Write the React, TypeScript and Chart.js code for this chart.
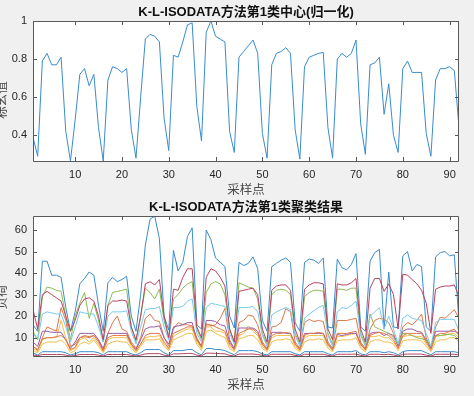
import { useEffect, useRef } from "react";
import { Chart, registerables } from "chart.js";

Chart.register(...registerables);

// Sample index along the x axis (1..92)
const samplePoints: number[] = Array.from({ length: 92 }, (_, i) => i + 1);

const xTickValues = [10, 20, 30, 40, 50, 60, 70, 80, 90];
const centerTickValues = [0.4, 0.6, 0.8, 1];
const loadTickValues = [10, 20, 30, 40, 50, 60];

const centerTitle = "K-L-ISODATA方法第1类中心(归一化)";
const clusterTitle = "K-L-ISODATA方法第1类聚类结果";
const xAxisTitle = "采样点";
const centerAxisTitle = "标幺值";
const loadAxisTitle = "负荷";

// Normalised centre of cluster 1
const centerValues = [
  0.39, 0.29, 0.79, 0.83, 0.77, 0.77, 0.81, 0.42, 0.265, 0.48,
  0.72, 0.75, 0.66, 0.72, 0.44, 0.265, 0.69, 0.76, 0.75, 0.73,
  0.75, 0.43, 0.28, 0.6, 0.905, 0.93, 0.92, 0.89, 0.49, 0.32,
  0.82, 0.81, 0.89, 0.98, 0.99, 0.55, 0.37, 0.94, 1.0, 0.92,
  0.905, 0.89, 0.42, 0.31, 0.81, 0.84, 0.87, 0.9, 0.83, 0.41,
  0.28, 0.77, 0.83, 0.84, 0.86, 0.83, 0.43, 0.275, 0.76, 0.81,
  0.82, 0.83, 0.835, 0.44, 0.28, 0.8, 0.83, 0.81, 0.83, 0.9,
  0.46, 0.3, 0.77, 0.78, 0.81, 0.51, 0.67, 0.4, 0.31, 0.75,
  0.79, 0.73, 0.73, 0.73, 0.41, 0.29, 0.69, 0.75, 0.75, 0.76,
  0.74, 0.44,
];

// Load curves of the members of cluster 1
const loadA = [
  16, 13, 45.5, 45.5, 39, 39, 38, 24, 13, 22,
  35, 37.5, 40.5, 39, 25, 13, 35.5, 38, 36, 37,
  38.5, 20, 13, 30, 53, 65, 66.5, 56, 20, 13.5,
  50.5, 41, 45, 57, 61, 16, 14, 60, 55.5, 47,
  45, 43, 20, 14.5, 45, 43.5, 44.5, 47.5, 42, 18,
  13, 43, 44.5, 46, 47, 45, 17, 13, 45, 46.5,
  46, 44.5, 47, 15, 14.5, 46.5, 42.5, 41.5, 44, 49,
  15, 13, 45.5, 49.5, 51, 14, 40.5, 15, 14.5, 48,
  50, 41, 44, 43, 15, 13, 47.5, 49.5, 50, 48,
  48.5, 17,
];
const loadB = [
  23, 14, 30, 31.5, 30, 28.5, 27, 20, 13, 18,
  25, 28, 28.5, 27, 20, 9, 25, 27, 27, 27.5,
  27, 15, 9, 20, 35, 36, 34.5, 37, 20, 10,
  32.5, 32, 38, 42, 42, 15, 10, 38, 42, 41,
  38, 34, 14, 8, 31.5, 32, 32.5, 33, 30, 14,
  8, 32, 34, 34.5, 34.5, 32, 14, 8, 32.5, 34.5,
  35.5, 35.5, 35, 14, 9, 35, 34.5, 34.5, 35.5, 37.5,
  14, 8, 33, 37.5, 37.5, 31.5, 35, 30, 14, 39.5,
  39, 37, 35, 32, 26, 12, 32.5, 33.5, 34, 34,
  34.5, 29,
];
const loadC = [
  13, 9, 29, 33.5, 33, 32, 31.5, 20, 9, 20,
  26, 31, 19, 26, 18, 8, 25, 31, 31.5, 32,
  32.5, 15, 8, 20, 33, 31, 28, 32.5, 18, 10,
  28, 30, 33, 35, 36, 14, 9, 31, 35, 36,
  35, 30, 14, 8, 35.5, 34.5, 33.5, 33, 28, 12,
  7, 30, 32, 32.5, 32, 30, 12, 7, 29, 31,
  32, 32, 31.5, 12, 7, 32.5, 32.5, 32, 33, 33,
  12, 7, 21, 15, 14, 13, 12, 10, 7, 12,
  12, 11, 10, 9.5, 9, 6, 11, 11, 11.5, 11.5,
  11, 9,
];
const loadD = [
  12, 9, 21, 22, 21.5, 21, 21, 15, 8, 15,
  22, 21.5, 21, 21, 15, 8, 20, 22, 22, 22,
  22.5, 13, 7, 15, 23, 23.5, 23.5, 24.5, 15, 9,
  24, 24, 24.5, 27, 28, 12, 8, 24, 26, 25.5,
  25, 24.5, 12, 7, 24, 24, 24, 24.5, 22, 11,
  6, 20.5, 22, 23, 24, 23, 11, 6, 19, 21,
  22.5, 24, 25, 11, 6, 22, 24, 23.5, 25, 27,
  11, 6, 20, 22, 24, 14, 20, 14, 7, 19,
  20.5, 19, 18.5, 18, 12, 6, 17, 18.5, 18.5, 18.5,
  18.5, 13,
];
const loadE = [
  6, 4, 10, 15, 14, 13, 24, 18, 6, 7,
  10, 11, 10.5, 11, 9, 4, 12, 17, 20, 14,
  13, 8, 5, 10, 19, 21, 18, 17.5, 10, 6,
  14, 17, 16, 16, 15.5, 10, 6, 16.5, 15.5, 16,
  19, 23.5, 9, 5, 17, 18, 20.5, 20, 16, 8,
  5, 15, 15.5, 17, 23.5, 22, 8, 5, 17, 18.5,
  17.5, 18, 17.5, 8, 5, 18, 18, 18, 18.5, 19,
  8, 5, 14, 18, 19, 18.5, 17, 12, 6, 15,
  17, 16, 18, 21, 10, 5, 15, 19.5, 19, 21,
  23, 19,
];
const loadF = [
  8, 6, 13, 13, 12.5, 12.5, 12.5, 9, 5, 8,
  12, 12, 12, 12, 9, 5, 12, 12, 12, 12,
  12, 7, 4.5, 9, 14, 15, 15, 15.5, 10, 7,
  15, 15.5, 16, 17, 17, 9, 6, 18, 18, 17.5,
  16, 15.5, 8, 5, 14.5, 14.5, 14.5, 14.5, 13, 7,
  4.5, 12.5, 12.5, 12.5, 12, 12, 7, 4.5, 12, 12,
  12, 12, 12, 7, 4.5, 11.5, 11, 11.5, 12, 12,
  7, 4.5, 12, 12.5, 12.5, 11, 12, 11, 6, 13,
  14, 14, 13, 12.5, 9, 5, 13, 13, 13, 13,
  13, 12,
];
const loadG = [
  5, 3.5, 9, 10, 10, 10, 18, 10, 4, 5,
  9, 10, 8, 10, 7, 3.5, 9, 10, 10, 10,
  10, 6, 3.5, 7, 10, 10.5, 10.5, 11, 7, 4.5,
  10.5, 12, 13, 14, 14, 8, 5, 15, 15, 13,
  13, 12, 6, 4, 11, 12, 15.5, 13, 11, 6,
  4, 10, 11, 11, 11, 11, 6, 4, 10, 11,
  11, 11, 11, 6, 4, 10.5, 10.5, 11, 11.5, 12,
  6, 4, 10.5, 10.5, 11, 10, 10, 8, 5, 10.5,
  11, 11, 10.5, 10.5, 7, 4, 10.5, 11, 11, 12,
  12, 10,
];
const loadH = [
  4, 3, 7, 8, 8, 8, 9, 7, 3, 4,
  7, 8, 7, 9, 6, 3, 7, 8, 8.5, 8,
  8, 5, 3, 6, 9, 9, 9, 9.5, 6, 4,
  9, 10, 11, 12, 12, 7, 4, 13, 13.5, 12,
  11, 10, 5, 3.5, 9.5, 10, 11, 11, 9, 5,
  3.5, 8, 9, 9, 9.5, 9, 5, 3.5, 8, 9,
  9, 9.5, 9, 5, 3.5, 8.5, 9, 9, 9, 10,
  5, 3.5, 8, 9, 9, 8, 8, 7, 4, 8.5,
  9, 9, 9, 8.5, 6, 3.5, 8, 9, 9, 10,
  10, 8,
];
const loadK = [
  6, 4.5, 9.5, 10, 10, 10.5, 11, 9, 4.5, 5.5,
  10, 10.5, 10, 11, 8, 4, 10, 11, 11, 11,
  11, 7, 4, 7, 11, 12, 12, 12, 8, 5,
  12, 13, 14, 15, 15, 9, 5.5, 16, 16, 15,
  14, 13, 7, 4.5, 12, 13, 14, 14, 12, 7,
  4.5, 11, 12, 12, 12.5, 12, 7, 4.5, 11, 12,
  12, 12.5, 12, 7, 4.5, 12, 12, 12, 12.5, 13,
  7, 4.5, 11, 12, 12.5, 12, 11, 9, 5, 11,
  12, 12, 12, 12, 8, 4.5, 11, 12, 12, 13,
  14, 11,
];
const loadI = [
  3, 2, 3.5, 3.5, 3.5, 3.5, 3.5, 3, 2, 2.5,
  3.5, 3.5, 3.5, 3.5, 3, 2, 3.5, 3.5, 3.5, 3.5,
  3.5, 2.5, 2, 3, 4.5, 4.5, 4.5, 4.5, 3, 2,
  4, 4, 4, 4.5, 4.5, 3, 2, 5, 5, 4.5,
  4.5, 4, 3, 2, 4, 4, 4, 4, 3.5, 2.5,
  2, 3.5, 3.5, 3.5, 3.5, 3.5, 2.5, 2, 3.5, 3.5,
  3.5, 3.5, 3.5, 2.5, 2, 3.5, 3.5, 3.5, 3.5, 4,
  2.5, 2, 3.5, 3.5, 3.5, 3, 3.5, 3, 2, 3.5,
  4, 4, 4, 4, 3, 2, 3.5, 3.5, 3.5, 3.5,
  3.5, 3,
];
const loadJ = [
  2, 1.6, 2.2, 2.2, 2.2, 2.2, 2.2, 1.9, 1.5, 1.7,
  2.2, 2.2, 2.2, 2.2, 1.9, 1.5, 2.2, 2.2, 2.2, 2.2,
  2.2, 1.8, 1.5, 1.9, 2.5, 2.6, 2.6, 2.6, 1.9, 1.6,
  2.5, 2.5, 2.6, 2.7, 2.7, 1.9, 1.6, 2.8, 2.8, 2.7,
  2.6, 2.5, 1.8, 1.5, 2.4, 2.4, 2.4, 2.4, 2.2, 1.8,
  1.5, 2.3, 2.3, 2.3, 2.3, 2.3, 1.8, 1.5, 2.3, 2.3,
  2.3, 2.3, 2.3, 1.8, 1.5, 2.3, 2.3, 2.3, 2.3, 2.4,
  1.8, 1.5, 2.3, 2.3, 2.3, 2.1, 2.3, 2, 1.5, 2.3,
  2.4, 2.4, 2.4, 2.4, 1.9, 1.5, 2.3, 2.3, 2.3, 2.3,
  2.3, 2,
];

const loadSeries = [loadA, loadE, loadG, loadF, loadC, loadD, loadB, loadI, loadK, loadH, loadJ];
const loadColors = [
  "#3a8ccd", "#e0774a", "#efc04e", "#9a5aa6", "#8cbb52", "#78cbee",
  "#b84460", "#3a8ccd", "#e0774a", "#efc04e", "#b84460",
];
const centerColor = "#3a8ccd";

const W = 474;
const PANEL_H = 198;
const AXIS_LEFT = 33;
const AXIS_RIGHT = 459;
const TICK_FONT = { family: '"Liberation Sans", Arial, sans-serif', size: 11 };
const TITLE_FONT = 'bold 13px "Liberation Sans", "Noto Sans CJK SC", sans-serif';
const LABEL_FONT = '12.5px "Noto Sans CJK SC", sans-serif';

const toPoints = (values: number[]) => values.map((v, i) => ({ x: samplePoints[i], y: v }));

type PanelText = { title: string; yTitle: string; yTitleOffset: number };

// MATLAB-like axes: grey figure, white box, inward ticks on all sides, titles
const matlabAxes = {
  id: "matlabAxes",
  beforeDraw(chart: any) {
    const { ctx, chartArea: a } = chart;
    ctx.save();
    ctx.fillStyle = "#f0f0f0";
    ctx.fillRect(0, 0, chart.width, chart.height);
    ctx.fillStyle = "#ffffff";
    ctx.fillRect(a.left, a.top, a.right - a.left, a.bottom - a.top);
    ctx.restore();
  },
  afterDraw(chart: any, _args: any, opts: PanelText) {
    const { ctx, chartArea: a } = chart;
    const xs = chart.scales.x;
    const ys = chart.scales.y;
    const tl = 4;
    ctx.save();
    ctx.strokeStyle = "#5a5a5a";
    ctx.lineWidth = 1;
    ctx.beginPath();
    ctx.rect(Math.round(a.left) + 0.5, Math.round(a.top) + 0.5, Math.round(a.right - a.left) - 1, Math.round(a.bottom - a.top));
    for (const t of xs.ticks) {
      const px = Math.round(xs.getPixelForValue(t.value)) + 0.5;
      ctx.moveTo(px, a.bottom);
      ctx.lineTo(px, a.bottom - tl);
      ctx.moveTo(px, a.top);
      ctx.lineTo(px, a.top + tl);
    }
    for (const t of ys.ticks) {
      const py = Math.round(ys.getPixelForValue(t.value)) + 0.5;
      ctx.moveTo(a.left, py);
      ctx.lineTo(a.left + tl, py);
      ctx.moveTo(a.right, py);
      ctx.lineTo(a.right - tl, py);
    }
    ctx.stroke();

    const cx = (a.left + a.right) / 2;
    ctx.fillStyle = "#111111";
    ctx.font = TITLE_FONT;
    ctx.textAlign = "center";
    ctx.textBaseline = "middle";
    ctx.fillText(opts.title, cx, a.top - 9);

    ctx.fillStyle = "#4a4a4a";
    ctx.font = LABEL_FONT;
    ctx.fillText(xAxisTitle, cx, a.bottom + 28);

    ctx.translate(1, (a.top + a.bottom) / 2 + opts.yTitleOffset);
    ctx.rotate(-Math.PI / 2);
    ctx.fillText(opts.yTitle, 0, 0);
    ctx.restore();
  },
};

function makeConfig(
  datasets: any[],
  yTicks: number[],
  yMin: number,
  yMax: number,
  padTop: number,
  xAxisHeight: number,
  text: PanelText
): any {
  return {
    type: "line",
    data: { datasets },
    options: {
      animation: false,
      responsive: false,
      devicePixelRatio: 1,
      layout: { padding: { top: padTop, right: W - AXIS_RIGHT, left: 0, bottom: 0 } },
      plugins: {
        legend: { display: false },
        tooltip: { enabled: false },
        title: { display: false },
        matlabAxes: text,
      },
      elements: { point: { radius: 0 }, line: { tension: 0, borderWidth: 1 } },
      scales: {
        x: {
          type: "linear",
          min: 1,
          max: 92,
          grid: { display: false, drawTicks: false },
          border: { display: false },
          ticks: {
            padding: 7,
            maxRotation: 0,
            autoSkip: false,
            color: "#262626",
            font: TICK_FONT,
            callback: (v: number) => String(v),
          },
          afterBuildTicks: (s: any) => {
            s.ticks = xTickValues.map((v) => ({ value: v }));
          },
          afterFit: (s: any) => {
            s.height = xAxisHeight;
          },
        },
        y: {
          type: "linear",
          min: yMin,
          max: yMax,
          grid: { display: false, drawTicks: false },
          border: { display: false },
          ticks: {
            padding: 6,
            color: "#262626",
            font: TICK_FONT,
            callback: (v: number) => String(v),
          },
          afterBuildTicks: (s: any) => {
            s.ticks = yTicks.map((v) => ({ value: v }));
          },
          afterFit: (s: any) => {
            s.width = AXIS_LEFT;
          },
        },
      },
    },
    plugins: [matlabAxes],
  };
}

export default function App() {
  const topRef = useRef<HTMLCanvasElement>(null);
  const bottomRef = useRef<HTMLCanvasElement>(null);

  useEffect(() => {
    const centerMin = Math.min(...centerValues);
    const centerMax = Math.max(...centerValues);
    const allLoads = loadSeries.flat();
    const loadMin = Math.min(...allLoads);
    const loadMax = Math.max(...allLoads);

    const top = new Chart(
      topRef.current!,
      makeConfig(
        [{ data: toPoints(centerValues), borderColor: centerColor, borderWidth: 1, fill: false }],
        centerTickValues,
        centerMin,
        centerMax,
        21,
        37,
        { title: centerTitle, yTitle: centerAxisTitle, yTitleOffset: 9 }
      )
    );

    const bottom = new Chart(
      bottomRef.current!,
      makeConfig(
        loadSeries.map((s, i) => ({
          data: toPoints(s),
          borderColor: loadColors[i],
          borderWidth: 1,
          fill: false,
          order: loadSeries.length - i,
        })),
        loadTickValues,
        loadMin,
        loadMax,
        18,
        40,
        { title: clusterTitle, yTitle: loadAxisTitle, yTitleOffset: 11 }
      )
    );

    return () => {
      top.destroy();
      bottom.destroy();
    };
  }, []);

  return (
    <div
      style={{
        position: "fixed",
        left: 0,
        top: 0,
        width: W,
        height: PANEL_H * 2,
        background: "#f0f0f0",
      }}
    >
      <canvas ref={topRef} width={W} height={PANEL_H} style={{ display: "block", width: W, height: PANEL_H }} />
      <canvas ref={bottomRef} width={W} height={PANEL_H} style={{ display: "block", width: W, height: PANEL_H }} />
    </div>
  );
}
